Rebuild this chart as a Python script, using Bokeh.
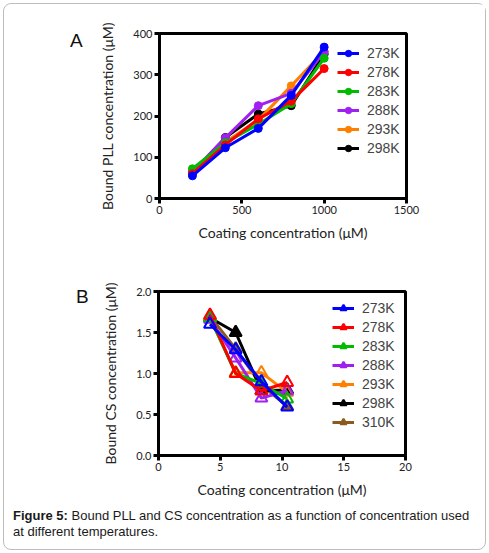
from bokeh.plotting import figure
from bokeh.layouts import column, row
from bokeh.models import Range1d, FixedTicker, Div, NumeralTickFormatter, InlineStyleSheet
from bokeh.embed import file_html
from bokeh.resources import INLINE

temps_a = ["273K", "278K", "283K", "288K", "293K", "298K"]
colors_a = ["#0000ff", "#ff0000", "#00bb00", "#a020f0", "#ff8000", "#000000"]
coat_pll = [200, 400, 600, 800, 1000]
pll_273 = [55, 123, 170, 250, 367]
pll_278 = [60, 130, 193, 236, 315]
pll_283 = [72, 135, 180, 230, 340]
pll_288 = [65, 147, 225, 255, 355]
pll_293 = [65, 137, 190, 273, 357]
pll_298 = [62, 148, 205, 225, 350]

temps_b = ["273K", "278K", "283K", "288K", "293K", "298K", "310K"]
colors_b = ["#0000ff", "#ff0000", "#00bb00", "#a020f0", "#ff8000", "#000000", "#8b5a1e"]
filled_b = [False, False, False, False, False, True, True]
coat_cs = [4.17, 6.25, 8.33, 10.42]
cs_273 = [1.60, 1.29, 0.90, 0.59]
cs_278 = [1.71, 1.00, 0.79, 0.89]
cs_283 = [1.68, 1.00, 0.88, 0.69]
cs_288 = [1.66, 1.19, 0.70, 0.79]
cs_293 = [1.68, 1.01, 1.01, 0.77]
cs_298 = [1.68, 1.50, 0.79, 0.80]
cs_310 = [1.70, 1.30, 0.86, 0.60]

AX_FONT = "Lato"
LEG_FONT = "Arial"
LETTER_W = 90


def style(p, xlabel, ylabel):
    p.outline_line_color = "black"
    p.outline_line_width = 3
    p.xgrid.visible = False
    p.ygrid.visible = False
    p.xaxis.axis_label = xlabel
    p.yaxis.axis_label = ylabel
    for ax in (p.xaxis[0], p.yaxis[0]):
        ax.axis_line_width = 3
        ax.major_tick_line_width = 3
        ax.major_tick_out = 5
        ax.major_tick_in = 0
        ax.minor_tick_line_color = None
        ax.major_label_text_font = AX_FONT
        ax.major_label_text_font_size = "11px"
        ax.major_label_text_color = "#222222"
        ax.major_label_standoff = 2
        ax.axis_label_text_font = AX_FONT
        ax.axis_label_text_font_size = "14px"
        ax.axis_label_text_font_style = "normal"
        ax.axis_label_text_color = "#222222"
    p.xaxis.axis_label_standoff = 7
    p.yaxis.axis_label_standoff = 14


def legend_style(p, loc):
    lg = p.legend[0]
    lg.location = loc
    lg.border_line_color = None
    lg.background_fill_alpha = 0
    lg.label_text_font = LEG_FONT
    lg.label_text_font_size = "14px"
    lg.label_standoff = 8
    lg.glyph_width = 22
    lg.glyph_height = 16
    lg.label_height = 16
    lg.spacing = 3
    lg.padding = 0
    lg.margin = 0
    lg.items = list(reversed(lg.items))


def letter(text, height, pad_top, pad_left):
    return Div(text=text, width=LETTER_W, height=height, margin=0,
               styles={"font-family": "'Liberation Sans', Arial, sans-serif",
                       "font-size": "19px", "line-height": "22px", "color": "#111111",
                       "padding-top": f"{pad_top}px", "padding-left": f"{pad_left}px",
                       "box-sizing": "border-box"})


def panel_a():
    p = figure(width=481 - LETTER_W, height=246, output_backend="svg", toolbar_location=None,
               x_range=Range1d(0, 1500), y_range=Range1d(0, 400),
               min_border_left=155 - LETTER_W, min_border_right=79,
               min_border_top=29, min_border_bottom=52)
    style(p, "Coating concentration (μM)", "Bound PLL concentration (μM)")
    p.xaxis.ticker = FixedTicker(ticks=[0, 500, 1000, 1500])
    p.yaxis.ticker = FixedTicker(ticks=[0, 100, 200, 300, 400])
    series = [pll_273, pll_278, pll_283, pll_288, pll_293, pll_298]
    for i in reversed(range(len(series))):
        p.line(coat_pll, series[i], color=colors_a[i], line_width=3, legend_label=temps_a[i])
        p.scatter(coat_pll, series[i], marker="circle", size=8, color=colors_a[i],
                  legend_label=temps_a[i])
    legend_style(p, (178, 42))
    return row(letter("A", 246, 26, 66), p, spacing=0)


def panel_b():
    p = figure(width=481 - LETTER_W, height=250, output_backend="svg", toolbar_location=None,
               x_range=Range1d(0, 20), y_range=Range1d(0, 2),
               min_border_left=154 - LETTER_W, min_border_right=80,
               min_border_top=41, min_border_bottom=44)
    style(p, "Coating concentration (μM)", "Bound CS concentration (μM)")
    p.xaxis.ticker = FixedTicker(ticks=[0, 5, 10, 15, 20])
    p.yaxis.ticker = FixedTicker(ticks=[0, 0.5, 1.0, 1.5, 2.0])
    p.yaxis.formatter = NumeralTickFormatter(format="0.0")
    series = [cs_273, cs_278, cs_283, cs_288, cs_293, cs_298, cs_310]
    for i in reversed(range(len(series))):
        c = colors_b[i]
        p.line(coat_cs, series[i], color=c, line_width=3, legend_label=temps_b[i])
        p.scatter(coat_cs, series[i], marker="triangle", size=12, line_color=c,
                  line_width=2, fill_color=c if filled_b[i] else None,
                  legend_label=temps_b[i])
    legend_style(p, (174, 25))
    return row(letter("B", 250, 36, 72), p, spacing=0)


caption = Div(
    text="<b>Figure 5:</b> Bound PLL and CS concentration as a function of concentration used "
         "at different temperatures.",
    width=481, height=49, margin=0,
    styles={"font-family": "'Liberation Sans', Arial, sans-serif", "font-size": "13px",
            "line-height": "16px", "color": "#1a1a1a", "padding": "8px 4px 0 9px",
            "box-sizing": "border-box"})

frame_css = InlineStyleSheet(css=":host { border: 1px solid #bdbdbd; border-radius: 8px; "
                                 "background: white; }")
layout = column(panel_a(), panel_b(), caption, spacing=0,
                styles={"margin": "3px"}, stylesheets=[frame_css])

open("out.html", "w").write(file_html(layout, INLINE))
